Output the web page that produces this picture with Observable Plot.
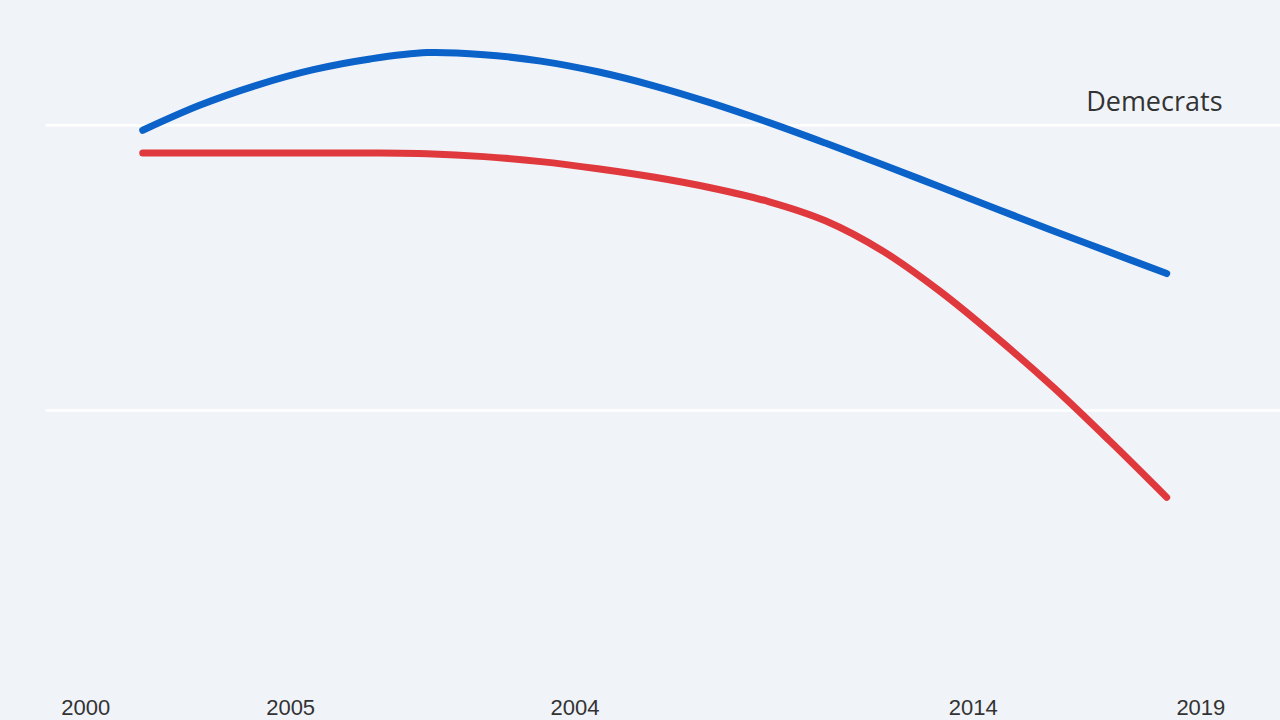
<!DOCTYPE html>
<html>
<head>
<meta charset="utf-8">
<script src="https://cdn.jsdelivr.net/npm/d3@7"></script>
<script src="https://cdn.jsdelivr.net/npm/@observablehq/plot@0.6"></script>
<style>
  html, body { margin: 0; padding: 0; background: #f0f4f9; overflow: hidden; }
  #chart svg { display: block; }
</style>
</head>
<body>
<div id="chart"></div>
<script>
const years = [2001, 2002, 2003, 2004, 2005, 2006, 2007, 2008, 2009, 2010,
               2011, 2012, 2013, 2014, 2015, 2016, 2017, 2018, 2019];
const democrats = [79.3, 82.8, 85.6, 87.8, 89.3, 90.2, 89.9, 89.0, 87.5, 85.5,
                   83.1, 80.4, 77.5, 74.5, 71.4, 68.3, 65.2, 62.2, 59.2];
const republicans = [76.1, 76.1, 76.1, 76.1, 76.1, 76.0, 75.6, 74.9, 73.9, 72.7,
                     71.2, 69.3, 66.6, 62.4, 56.8, 50.3, 43.3, 35.7, 27.8];
const gridValues = [40, 80];
const tickYears = [2000, 2003.6, 2008.6, 2015.6, 2019.6];
const tickLabels = ["2000", "2005", "2004", "2014", "2019"];
const seriesLabel = "Demecrats";

const rows = [];
years.forEach((y, i) => {
  rows.push({year: y, value: democrats[i], party: "Democrats"});
  rows.push({year: y, value: republicans[i], party: "Republicans"});
});
const ticks = tickYears.map((t, i) => ({year: t, label: tickLabels[i]}));

const chart = Plot.plot({
  width: 1280,
  height: 720,
  marginTop: 0, marginRight: 0, marginBottom: 0, marginLeft: 0,
  style: {background: "#f0f4f9", overflow: "visible"},
  x: {domain: [1998.5, 2021], axis: null},
  y: {domain: [-3.5, 97.5], axis: null},
  color: {domain: ["Democrats", "Republicans"], range: ["#0b62c8", "#e0393d"]},
  marks: [
    Plot.ruleY(gridValues, {x1: 1999.3, x2: 2021, stroke: "#ffffff", strokeWidth: 2.5}),
    Plot.line(rows, {
      x: "year", y: "value", z: "party", stroke: "party",
      strokeWidth: 7, curve: "catmull-rom", strokeLinecap: "round", strokeLinejoin: "round"
    }),
    Plot.text([seriesLabel], {
      frameAnchor: "top-right", dx: -58, dy: 102, lineAnchor: "middle",
      fontSize: 27, fill: "#333333", fontFamily: "Open Sans, sans-serif"
    }),
    Plot.text(ticks, {
      x: "year", text: "label", frameAnchor: "bottom", lineAnchor: "bottom", dy: -6,
      fontSize: 22, fill: "#333333", fontFamily: "Liberation Sans, Arial, sans-serif"
    })
  ]
});
document.getElementById("chart").appendChild(chart);
</script>
</body>
</html>
